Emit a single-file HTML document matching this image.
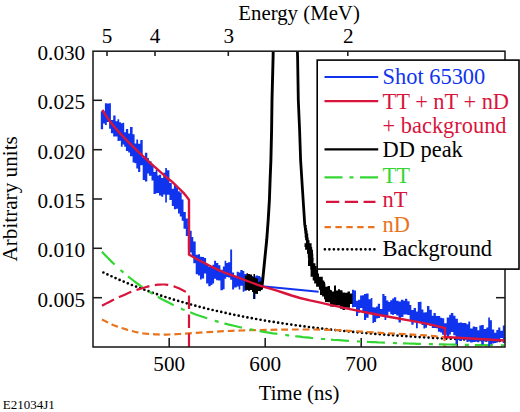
<!DOCTYPE html>
<html><head><meta charset="utf-8"><style>
html,body{margin:0;padding:0;background:#fff;}
svg{display:block;}
text{font-family:"Liberation Serif",serif;}
</style></head><body>
<svg width="520" height="412" viewBox="0 0 520 412">
<defs><clipPath id="pa"><rect x="93" y="51.2" width="412" height="295.8"/></clipPath></defs>
<rect width="520" height="412" fill="#fff"/>
<g stroke="#1c1c1c" stroke-width="1.55" fill="none"><line x1="93" y1="100.3" x2="102" y2="100.3"/><line x1="505" y1="100.3" x2="496" y2="100.3"/><line x1="93" y1="149.7" x2="102" y2="149.7"/><line x1="505" y1="149.7" x2="496" y2="149.7"/><line x1="93" y1="199.0" x2="102" y2="199.0"/><line x1="505" y1="199.0" x2="496" y2="199.0"/><line x1="93" y1="248.3" x2="102" y2="248.3"/><line x1="505" y1="248.3" x2="496" y2="248.3"/><line x1="93" y1="297.7" x2="102" y2="297.7"/><line x1="505" y1="297.7" x2="496" y2="297.7"/><line x1="169.2" y1="347" x2="169.2" y2="338"/><line x1="265.2" y1="347" x2="265.2" y2="338"/><line x1="361.2" y1="347" x2="361.2" y2="338"/><line x1="457.2" y1="347" x2="457.2" y2="338"/><line x1="107.0" y1="51" x2="107.0" y2="56"/><line x1="155.0" y1="51" x2="155.0" y2="56"/><line x1="228.3" y1="51" x2="228.3" y2="56"/><line x1="347.8" y1="51" x2="347.8" y2="56"/></g>
<g clip-path="url(#pa)" fill="none" stroke-linejoin="miter">
<polyline points="103.4,272.5 105.4,273.4 107.4,274.4 109.4,275.3 111.4,276.2 113.4,277.1 115.4,278.0 117.4,278.9 119.4,279.8 121.4,280.6 123.4,281.5 125.4,282.3 127.4,283.1 129.4,284.0 131.4,284.8 133.4,285.6 135.4,286.3 137.4,287.1 139.4,287.9 141.4,288.6 143.4,289.4 145.4,290.1 147.4,290.8 149.4,291.5 151.4,292.3 153.4,293.0 155.4,293.6 157.4,294.3 159.4,295.0 161.4,295.7 163.4,296.3 165.4,297.0 167.4,297.6 169.4,298.2 171.4,298.8 173.4,299.5 175.4,300.1 177.4,300.7 179.4,301.3 181.4,301.8 183.4,302.4 185.4,303.0 187.4,303.5 189.4,304.1 191.4,304.6 193.4,305.2 195.4,305.7 197.4,306.2 199.4,306.8 201.4,307.3 203.4,307.8 205.4,308.3 207.4,308.8 209.4,309.3 211.4,309.7 213.4,310.2 215.4,310.7 217.4,311.1 219.4,311.6 221.4,312.0 223.4,312.5 225.4,312.9 227.4,313.4 229.4,313.8 231.4,314.2 233.4,314.6 235.4,315.0 237.4,315.4 239.4,315.8 241.4,316.2 243.4,316.6 245.4,317.0 247.4,317.4 249.4,317.8 251.4,318.1 253.4,318.5 255.4,318.9 257.4,319.2 259.4,319.6 261.4,319.9 263.4,320.3 265.4,320.6 267.4,320.9 269.4,321.3 271.4,321.6 273.4,321.9 275.4,322.2 277.4,322.5 279.4,322.9 281.4,323.2 283.4,323.5 285.4,323.8 287.4,324.1 289.4,324.3 291.4,324.6 293.4,324.9 295.4,325.2 297.4,325.5 299.4,325.7 301.4,326.0 303.4,326.3 305.4,326.5 307.4,326.8 309.4,327.1 311.4,327.3 313.4,327.6 315.4,327.8 317.4,328.0 319.4,328.3 321.4,328.5 323.4,328.8 325.4,329.0 327.4,329.2 329.4,329.4 331.4,329.7 333.4,329.9 335.4,330.1 337.4,330.3 339.4,330.5 341.4,330.7 343.4,330.9 345.4,331.1 347.4,331.3 349.4,331.5 351.4,331.7 353.4,331.9 355.4,332.1 357.4,332.3 359.4,332.5 361.4,332.7 363.4,332.8 365.4,333.0 367.4,333.2 369.4,333.4 371.4,333.5 373.4,333.7 375.4,333.9 377.4,334.0 379.4,334.2 381.4,334.4 383.4,334.5 385.4,334.7 387.4,334.8 389.4,335.0 391.4,335.1 393.4,335.3 395.4,335.4 397.4,335.6 399.4,335.7 401.4,335.8 403.4,336.0 405.4,336.1 407.4,336.3 409.4,336.4 411.4,336.5 413.4,336.7 415.4,336.8 417.4,336.9 419.4,337.0 421.4,337.2 423.4,337.3 425.4,337.4 427.4,337.5 429.4,337.6 431.4,337.8 433.4,337.9 435.4,338.0 437.4,338.1 439.4,338.2 441.4,338.3 443.4,338.4 445.4,338.5 447.4,338.6 449.4,338.7 451.4,338.8 453.4,338.9 455.4,339.0 457.4,339.1 459.4,339.2 461.4,339.3 463.4,339.4 465.4,339.5 467.4,339.6 469.4,339.7 471.4,339.8 473.4,339.9 475.4,340.0 477.4,340.1 479.4,340.1 481.4,340.2 483.4,340.3 485.4,340.4 487.4,340.5 489.4,340.5 491.4,340.6 493.4,340.7 495.4,340.8 497.4,340.9 499.4,340.9 501.4,341.0 503.4,341.1 505.4,341.2" stroke="#000" stroke-width="2.7" stroke-dasharray="0 4.45" stroke-linecap="round"/>
<polyline points="102.0,319.5 103.8,320.4 106.4,321.8 109.3,323.2 112.0,324.5 114.4,325.5 116.8,326.4 119.2,327.2 121.7,328.0 124.2,328.8 126.8,329.6 129.4,330.3 132.0,331.0 134.7,331.7 137.4,332.3 140.2,332.8 143.0,333.3 146.0,333.7 149.0,333.9 152.0,334.1 155.0,334.3 157.8,334.4 160.4,334.6 163.1,334.6 166.0,334.6 169.1,334.5 172.4,334.4 176.0,334.2 180.0,334.0 184.3,333.7 188.9,333.4 194.0,333.0 200.0,332.6 207.0,332.2 214.9,331.7 223.3,331.2 232.0,330.8 241.3,330.5 251.1,330.2 260.9,330.0 270.0,329.8 278.1,329.7 285.5,329.6 292.7,329.5 300.0,329.5 307.6,329.5 315.3,329.5 322.9,329.6 330.0,329.8 336.6,330.1 342.8,330.4 348.9,330.8 355.0,331.2 361.1,331.6 367.2,332.0 373.4,332.4 380.0,332.8 387.4,333.2 395.3,333.6 403.1,334.0 410.0,334.4 415.8,334.8 421.0,335.1 425.6,335.4 430.0,335.8 434.4,336.2 438.5,336.6 442.0,337.0 444.5,337.3 444.5,347.5 506.0,347.5" stroke="#e8741e" stroke-width="2.2" stroke-dasharray="6.8 3.9"/>
<polyline points="102.0,251.7 105.0,254.9 108.0,258.1 111.0,261.1 114.0,264.0 117.0,266.8 120.0,269.6 123.0,272.2 126.0,274.7 129.0,277.2 132.0,279.5 135.0,281.8 138.0,284.0 141.0,286.2 144.0,288.2 147.0,290.2 150.0,292.1 153.0,294.0 156.0,295.8 159.0,297.5 162.0,299.2 165.0,300.8 168.0,302.3 171.0,303.8 174.0,305.3 177.0,306.7 180.0,308.0 183.0,309.4 186.0,310.6 189.0,311.8 192.0,313.0 195.0,314.2 198.0,315.3 201.0,316.3 204.0,317.3 207.0,318.3 210.0,319.3 213.0,320.2 216.0,321.1 219.0,322.0 222.0,322.8 225.0,323.6 228.0,324.4 231.0,325.1 234.0,325.8 237.0,326.5 240.0,327.2 243.0,327.9 246.0,328.5 249.0,329.1 252.0,329.7 255.0,330.3 258.0,330.8 261.0,331.3 264.0,331.8 267.0,332.3 270.0,332.8 273.0,333.3 276.0,333.7 279.0,334.1 282.0,334.5 285.0,334.9 288.0,335.3 291.0,335.7 294.0,336.1 297.0,336.4 300.0,336.7 303.0,337.1 306.0,337.4 309.0,337.7 312.0,338.0 315.0,338.3 318.0,338.5 321.0,338.8 324.0,339.0 327.0,339.3 330.0,339.5 333.0,339.8 336.0,340.0 339.0,340.2 342.0,340.4 345.0,340.6 348.0,340.8 351.0,341.0 354.0,341.2 357.0,341.3 360.0,341.5 363.0,341.7 366.0,341.8 369.0,342.0 372.0,342.1 375.0,342.2 378.0,342.4 381.0,342.5 384.0,342.6 387.0,342.8 390.0,342.9 393.0,343.0 396.0,343.1 399.0,343.2 402.0,343.3 405.0,343.4 408.0,343.5 411.0,343.6 414.0,343.7 417.0,343.8 420.0,343.9 423.0,343.9 426.0,344.0 429.0,344.1 432.0,344.2 435.0,344.2 438.0,344.3 441.0,344.4 444.0,344.4 447.0,344.5 450.0,344.5 453.0,344.6 456.0,344.7 459.0,344.7 462.0,344.8 465.0,344.8 468.0,344.9 471.0,344.9 474.0,345.0 477.0,345.0 480.0,345.0 483.0,345.1 486.0,345.1 489.0,345.2 492.0,345.2 495.0,345.2 498.0,345.3 501.0,345.3 504.0,345.3" stroke="#34d634" stroke-width="2.2" stroke-dasharray="18 8 4 6"/>
<polyline points="102.0,305.8 103.8,304.8 106.4,303.4 109.3,301.9 112.0,300.5 114.4,299.3 116.8,298.2 119.2,297.1 121.7,296.0 124.2,294.9 126.8,293.7 129.4,292.6 132.0,291.5 134.7,290.5 137.6,289.6 140.4,288.8 143.0,288.0 145.4,287.3 147.7,286.6 149.9,286.0 152.0,285.5 154.1,285.1 156.2,284.9 158.2,284.7 160.0,284.6 161.6,284.5 163.1,284.5 164.5,284.5 166.0,284.6 167.5,284.8 169.1,285.1 170.7,285.4 172.3,285.9 174.0,286.4 175.6,287.0 177.4,287.7 179.4,288.6 181.8,289.8 184.6,291.2 187.2,292.6 189.0,293.5 189.0,347.0" stroke="#d8143c" stroke-width="2.2" stroke-dasharray="13.5 5.5"/>
<polygon points="100.8,111.3 103.1,111.3 103.1,111.6 104.9,111.6 104.9,103.2 106.8,103.2 106.8,103.6 109.1,103.6 109.1,103.3 110.9,103.3 110.9,120.1 113.2,120.1 113.2,115.6 115.6,115.6 115.6,121.2 117.5,121.2 117.5,119.3 119.2,119.3 119.2,122.3 120.9,122.3 120.9,123.3 122.6,123.3 122.6,122.7 124.2,122.7 124.2,132.2 125.9,132.2 125.9,129.0 128.2,129.0 128.2,133.5 130.0,133.5 130.0,127.0 132.6,127.0 132.6,134.3 134.6,134.3 134.6,143.5 136.3,143.5 136.3,139.5 138.1,139.5 138.1,143.8 140.3,143.8 140.3,140.0 142.7,140.0 142.7,157.7 144.9,157.7 144.9,152.7 147.3,152.7 147.3,158.0 148.9,158.0 148.9,161.3 151.5,161.3 151.5,164.4 153.5,164.4 153.5,172.1 155.7,172.1 155.7,169.7 157.4,169.7 157.4,175.6 159.0,175.6 159.0,174.7 161.2,174.7 161.2,178.0 163.2,178.0 163.2,172.7 165.2,172.7 165.2,168.0 166.9,168.0 166.9,170.3 169.4,170.3 169.4,183.0 171.8,183.0 171.8,188.8 173.9,188.8 173.9,184.0 176.2,184.0 176.2,187.6 178.0,187.6 178.0,191.3 179.8,191.3 179.8,192.6 181.7,192.6 181.7,199.5 183.5,199.5 183.5,212.0 185.8,212.0 185.8,218.6 187.9,218.6 187.9,226.2 190.0,226.2 190.0,230.7 191.7,230.7 191.7,237.0 193.3,237.0 193.3,241.4 195.7,241.4 195.7,254.7 198.0,254.7 198.0,254.3 200.0,254.3 200.0,256.7 201.7,256.7 201.7,257.0 204.1,257.0 204.1,258.0 206.1,258.0 206.1,263.8 208.3,263.8 208.3,266.8 210.7,266.8 210.7,266.2 212.4,266.2 212.4,264.7 214.1,264.7 214.1,260.8 216.1,260.8 216.1,263.0 218.3,263.0 218.3,265.2 220.4,265.2 220.4,269.7 222.9,269.7 222.9,266.4 224.6,266.4 224.6,260.8 226.2,260.8 226.2,262.9 227.9,262.9 227.9,262.3 230.2,262.3 230.2,249.5 232.1,249.5 232.1,272.4 234.1,272.4 234.1,276.9 236.7,276.9 236.7,271.7 238.7,271.7 238.7,272.5 240.3,272.5 240.3,270.1 242.7,270.1 242.7,271.1 244.3,271.1 244.3,274.0 246.8,274.0 246.8,276.5 249.3,276.5 249.3,278.0 251.3,278.0 251.3,276.0 253.0,276.0 253.0,276.7 255.5,276.7 255.5,275.5 258.0,275.5 258.0,276.0 260.2,276.0 260.2,277.3 261.8,277.3 261.8,289.1 260.2,289.1 260.2,288.0 258.0,288.0 258.0,289.7 255.5,289.7 255.5,299.0 253.0,299.0 253.0,289.3 251.3,289.3 251.3,288.7 249.3,288.7 249.3,289.3 246.8,289.3 246.8,290.7 244.3,290.7 244.3,291.7 242.7,291.7 242.7,285.7 240.3,285.7 240.3,289.5 238.7,289.5 238.7,286.6 236.7,286.6 236.7,287.6 234.1,287.6 234.1,289.4 232.1,289.4 232.1,279.8 230.2,279.8 230.2,277.5 227.9,277.5 227.9,277.0 226.2,277.0 226.2,278.8 224.6,278.8 224.6,289.2 222.9,289.2 222.9,290.2 220.4,290.2 220.4,280.5 218.3,280.5 218.3,280.2 216.1,280.2 216.1,278.8 214.1,278.8 214.1,283.5 212.4,283.5 212.4,285.1 210.7,285.1 210.7,286.2 208.3,286.2 208.3,283.5 206.1,283.5 206.1,273.4 204.1,273.4 204.1,278.5 201.7,278.5 201.7,279.4 200.0,279.4 200.0,275.4 198.0,275.4 198.0,274.3 195.7,274.3 195.7,263.3 193.3,263.3 193.3,256.2 191.7,256.2 191.7,252.4 190.0,252.4 190.0,249.1 187.9,249.1 187.9,235.9 185.8,235.9 185.8,228.7 183.5,228.7 183.5,220.7 181.7,220.7 181.7,216.5 179.8,216.5 179.8,213.4 178.0,213.4 178.0,208.8 176.2,208.8 176.2,209.3 173.9,209.3 173.9,205.9 171.8,205.9 171.8,200.0 169.4,200.0 169.4,194.8 166.9,194.8 166.9,202.5 165.2,202.5 165.2,194.5 163.2,194.5 163.2,196.7 161.2,196.7 161.2,195.5 159.0,195.5 159.0,192.9 157.4,192.9 157.4,193.3 155.7,193.3 155.7,194.0 153.5,194.0 153.5,180.4 151.5,180.4 151.5,175.7 148.9,175.7 148.9,173.6 147.3,173.6 147.3,181.4 144.9,181.4 144.9,179.9 142.7,179.9 142.7,165.2 140.3,165.2 140.3,172.1 138.1,172.1 138.1,168.5 136.3,168.5 136.3,163.2 134.6,163.2 134.6,162.5 132.6,162.5 132.6,156.3 130.0,156.3 130.0,152.6 128.2,152.6 128.2,151.0 125.9,151.0 125.9,146.7 124.2,146.7 124.2,144.6 122.6,144.6 122.6,146.7 120.9,146.7 120.9,140.8 119.2,140.8 119.2,141.1 117.5,141.1 117.5,136.4 115.6,136.4 115.6,136.5 113.2,136.5 113.2,133.3 110.9,133.3 110.9,128.8 109.1,128.8 109.1,122.1 106.8,122.1 106.8,124.9 104.9,124.9 104.9,123.6 103.1,123.6 103.1,129.3 100.8,129.3" fill="#1034ee"/>
<polygon points="352.0,289.7 353.9,289.7 353.9,290.6 356.0,290.6 356.0,300.8 358.1,300.8 358.1,299.7 360.1,299.7 360.1,295.6 362.3,295.6 362.3,295.3 364.0,295.3 364.0,294.0 366.1,294.0 366.1,293.4 368.6,293.4 368.6,299.3 370.8,299.3 370.8,298.1 372.4,298.1 372.4,307.2 374.0,307.2 374.0,307.4 376.1,307.4 376.1,306.6 377.8,306.6 377.8,303.8 380.0,303.8 380.0,309.1 382.3,309.1 382.3,294.0 384.5,294.0 384.5,296.1 386.3,296.1 386.3,300.6 388.4,300.6 388.4,302.1 390.2,302.1 390.2,300.2 392.2,300.2 392.2,298.6 393.9,298.6 393.9,297.3 396.2,297.3 396.2,300.7 398.5,300.7 398.5,301.5 400.9,301.5 400.9,299.7 403.4,299.7 403.4,300.7 405.0,300.7 405.0,298.8 407.3,298.8 407.3,301.3 409.6,301.3 409.6,305.1 411.3,305.1 411.3,310.1 413.6,310.1 413.6,308.0 416.0,308.0 416.0,311.5 417.8,311.5 417.8,302.0 419.6,302.0 419.6,301.7 421.5,301.7 421.5,309.6 423.4,309.6 423.4,312.6 425.1,312.6 425.1,312.2 427.0,312.2 427.0,306.0 429.4,306.0 429.4,309.7 431.8,309.7 431.8,315.7 433.5,315.7 433.5,313.1 435.8,313.1 435.8,316.0 437.9,316.0 437.9,316.1 440.2,316.1 440.2,317.8 442.1,317.8 442.1,318.3 444.2,318.3 444.2,323.3 446.7,323.3 446.7,317.6 449.2,317.6 449.2,314.8 450.9,314.8 450.9,312.9 453.3,312.9 453.3,315.7 455.5,315.7 455.5,318.8 457.9,318.8 457.9,322.8 459.7,322.8 459.7,322.5 462.0,322.5 462.0,322.9 463.9,322.9 463.9,323.1 466.4,323.1 466.4,324.3 468.3,324.3 468.3,321.5 470.2,321.5 470.2,328.4 472.7,328.4 472.7,326.5 475.1,326.5 475.1,326.9 477.4,326.9 477.4,330.3 479.3,330.3 479.3,325.4 481.3,325.4 481.3,325.1 483.8,325.1 483.8,328.9 486.3,328.9 486.3,327.5 488.2,327.5 488.2,317.6 489.9,317.6 489.9,320.2 491.9,320.2 491.9,329.6 494.2,329.6 494.2,332.7 496.3,332.7 496.3,330.0 498.2,330.0 498.2,327.6 500.3,327.6 500.3,330.8 502.8,330.8 502.8,325.5 504.4,325.5 504.4,325.2 506.0,325.2 506.0,340.9 504.4,340.9 504.4,342.9 502.8,342.9 502.8,337.9 500.3,337.9 500.3,341.5 498.2,341.5 498.2,342.5 496.3,342.5 496.3,342.9 494.2,342.9 494.2,343.4 491.9,343.4 491.9,344.2 489.9,344.2 489.9,346.7 488.2,346.7 488.2,341.2 486.3,341.2 486.3,341.6 483.8,341.6 483.8,344.5 481.3,344.5 481.3,341.2 479.3,341.2 479.3,342.3 477.4,342.3 477.4,341.7 475.1,341.7 475.1,341.9 472.7,341.9 472.7,342.6 470.2,342.6 470.2,341.5 468.3,341.5 468.3,342.0 466.4,342.0 466.4,339.7 463.9,339.7 463.9,339.5 462.0,339.5 462.0,341.1 459.7,341.1 459.7,340.1 457.9,340.1 457.9,344.3 455.5,344.3 455.5,335.2 453.3,335.2 453.3,331.9 450.9,331.9 450.9,334.5 449.2,334.5 449.2,336.8 446.7,336.8 446.7,334.7 444.2,334.7 444.2,334.7 442.1,334.7 442.1,332.6 440.2,332.6 440.2,331.7 437.9,331.7 437.9,328.3 435.8,328.3 435.8,328.0 433.5,328.0 433.5,327.9 431.8,327.9 431.8,325.7 429.4,325.7 429.4,323.0 427.0,323.0 427.0,327.7 425.1,327.7 425.1,328.5 423.4,328.5 423.4,324.9 421.5,324.9 421.5,322.8 419.6,322.8 419.6,323.1 417.8,323.1 417.8,328.3 416.0,328.3 416.0,322.3 413.6,322.3 413.6,324.7 411.3,324.7 411.3,320.6 409.6,320.6 409.6,315.0 407.3,315.0 407.3,314.5 405.0,314.5 405.0,314.6 403.4,314.6 403.4,316.9 400.9,316.9 400.9,322.4 398.5,322.4 398.5,315.4 396.2,315.4 396.2,313.9 393.9,313.9 393.9,315.0 392.2,315.0 392.2,314.2 390.2,314.2 390.2,311.8 388.4,311.8 388.4,315.7 386.3,315.7 386.3,320.1 384.5,320.1 384.5,316.5 382.3,316.5 382.3,315.4 380.0,315.4 380.0,317.9 377.8,317.9 377.8,318.5 376.1,318.5 376.1,321.9 374.0,321.9 374.0,323.1 372.4,323.1 372.4,313.5 370.8,313.5 370.8,314.1 368.6,314.1 368.6,317.7 366.1,317.7 366.1,319.9 364.0,319.9 364.0,312.7 362.3,312.7 362.3,308.1 360.1,308.1 360.1,312.7 358.1,312.7 358.1,316.0 356.0,316.0 356.0,306.9 353.9,306.9 353.9,307.2 352.0,307.2" fill="#1034ee"/>
<polyline points="262.0,286.3 318.6,291.8" stroke="#1034ee" stroke-width="2"/>
<polygon points="245.0,275.8 246.5,275.8 246.5,273.3 248.0,273.3 248.0,274.0 250.0,274.0 250.0,274.4 252.0,274.4 252.0,276.7 253.5,276.7 253.5,274.0 255.0,274.0 255.0,278.0 256.5,278.0 256.5,278.5 258.0,278.5 258.0,282.2 259.5,282.2 259.5,281.3 261.0,281.3 261.0,282.0 262.5,282.0 262.5,290.0 261.0,290.0 261.0,291.3 259.5,291.3 259.5,290.9 258.0,290.9 258.0,294.0 256.5,294.0 256.5,293.7 255.0,293.7 255.0,298.7 253.5,298.7 253.5,292.0 252.0,292.0 252.0,290.0 250.0,290.0 250.0,290.7 248.0,290.7 248.0,290.0 246.5,290.0 246.5,289.9 245.0,289.9" fill="#000"/>
<polygon points="320.0,281.5 322.5,281.5 322.5,281.9 325.0,281.9 325.0,287.2 327.5,287.2 327.5,286.0 330.0,286.0 330.0,290.3 332.0,290.3 332.0,291.5 334.0,291.5 334.0,285.4 336.0,285.4 336.0,290.4 338.0,290.4 338.0,289.2 340.0,289.2 340.0,290.3 342.5,290.3 342.5,292.6 345.0,292.6 345.0,292.8 347.5,292.8 347.5,291.4 350.0,291.4 350.0,293.6 352.5,293.6 352.5,304.0 350.0,304.0 350.0,307.8 347.5,307.8 347.5,307.8 345.0,307.8 345.0,310.0 342.5,310.0 342.5,308.7 340.0,308.7 340.0,305.6 338.0,305.6 338.0,305.4 336.0,305.4 336.0,306.0 334.0,306.0 334.0,306.7 332.0,306.7 332.0,306.6 330.0,306.6 330.0,302.3 327.5,302.3 327.5,302.0 325.0,302.0 325.0,295.5 322.5,295.5 322.5,295.0 320.0,295.0" fill="#000"/>
<polygon points="303.7,225.0 303.7,227.9 304.0,227.9 304.0,230.6 304.3,230.6 304.3,233.6 304.7,233.6 304.7,237.5 305.1,237.5 305.1,240.3 305.9,240.3 305.9,243.2 304.5,243.2 304.5,246.9 305.1,246.9 305.1,249.8 307.0,249.8 307.0,253.8 307.8,253.8 307.8,257.7 308.1,257.7 308.1,260.4 308.0,260.4 308.0,263.3 308.0,263.3 308.0,265.9 310.2,265.9 310.2,269.5 310.6,269.5 310.6,273.4 310.6,273.4 310.6,276.8 312.7,276.8 312.7,280.4 314.2,280.4 314.2,283.6 316.1,283.6 316.1,286.8 318.9,286.8 318.9,289.7 320.9,289.7 320.9,292.5 322.1,292.5 322.1,296.4 324.0,296.4 324.0,299.2 324.9,299.2 324.9,300.0 334.9,300.0 334.9,299.2 334.7,299.2 334.7,296.4 333.9,296.4 333.9,292.5 331.0,292.5 331.0,289.7 328.6,289.7 328.6,286.8 325.4,286.8 325.4,283.6 324.3,283.6 324.3,280.4 322.8,280.4 322.8,276.8 319.0,276.8 319.0,273.4 318.1,273.4 318.1,269.5 316.7,269.5 316.7,265.9 315.4,265.9 315.4,263.3 313.5,263.3 313.5,260.4 313.6,260.4 313.6,257.7 313.3,257.7 313.3,253.8 313.0,253.8 313.0,249.8 312.2,249.8 312.2,246.9 311.6,246.9 311.6,243.2 309.5,243.2 309.5,240.3 308.7,240.3 308.7,237.5 308.2,237.5 308.2,233.6 307.6,233.6 307.6,230.6 307.1,230.6 307.1,227.9 306.7,227.9 306.7,225.0" fill="#000"/>
<polyline points="261.5,289.0 262.5,282.0 264.7,260.0 266.7,240.0 268.2,220.0 269.4,200.0 270.1,180.0 270.9,160.0 271.6,130.0 272.0,100.0 273.1,57.0 273.4,40.0" stroke="#000" stroke-width="2.9"/>
<polyline points="297.3,40.0 297.4,51.0 297.6,57.0 298.3,100.0 299.6,130.0 300.6,160.0 302.5,190.0 303.8,210.0 304.8,225.5" stroke="#000" stroke-width="2.8"/>
<polyline points="102.4,109.8 104.0,112.4 106.2,116.0 108.5,119.4 110.5,122.1 112.5,124.6 114.5,127.0 116.4,129.3 118.4,131.4 120.4,133.6 122.5,135.9 124.7,138.2 127.0,140.6 129.5,143.2 132.2,145.9 135.0,148.6 137.7,151.2 140.5,153.8 143.5,156.6 146.8,159.6 150.2,162.8 153.5,165.8 156.4,168.4 159.2,170.9 162.0,173.3 164.9,175.8 167.9,178.3 170.5,180.5 172.5,182.2 174.1,183.7 176.0,185.5 178.6,188.0 181.5,190.8 184.0,193.4 186.1,195.9 187.8,198.2 189.0,199.8 189.0,254.5 191.5,256.0 195.3,258.2 200.0,260.8 205.8,263.8 212.5,267.2 219.2,270.4 225.6,273.0 232.1,275.4 238.5,277.7 244.9,280.1 251.3,282.5 257.7,284.8 264.0,286.8 270.2,288.6 276.9,290.6 284.1,293.0 291.6,295.5 300.0,298.0 309.9,300.4 320.5,302.7 330.0,304.8 337.4,306.4 343.7,307.8 350.0,309.1 356.3,310.4 362.6,311.7 370.0,313.2 379.4,315.0 390.0,317.0 400.0,318.8 408.9,320.4 417.2,321.9 425.0,323.4 432.8,325.1 440.0,326.8 445.0,328.0 445.0,337.0 505.0,340.5" stroke="#d8143c" stroke-width="2.4"/>
</g>
<g stroke="#1c1c1c" stroke-width="1.55" fill="none">
<rect x="93" y="51.2" width="412" height="295.8"/>
</g>
<g font-size="21.2px" fill="#000">
<text x="85.2" y="60.0" text-anchor="end">0.030</text><text x="85.2" y="109.3" text-anchor="end">0.025</text><text x="85.2" y="158.7" text-anchor="end">0.020</text><text x="85.2" y="208.0" text-anchor="end">0.015</text><text x="85.2" y="257.3" text-anchor="end">0.010</text><text x="85.2" y="306.7" text-anchor="end">0.005</text>
<text x="169.2" y="370.8" text-anchor="middle">500</text><text x="265.2" y="370.8" text-anchor="middle">600</text><text x="361.2" y="370.8" text-anchor="middle">700</text><text x="457.2" y="370.8" text-anchor="middle">800</text>
<text x="107.0" y="43" text-anchor="middle">5</text><text x="155.0" y="43" text-anchor="middle">4</text><text x="228.8" y="43" text-anchor="middle">3</text><text x="348.4" y="43" text-anchor="middle">2</text>
<text x="299.1" y="400.3" text-anchor="middle" font-size="20.8px">Time (ns)</text>
<text x="299.1" y="19.6" text-anchor="middle" font-size="20.8px">Energy (MeV)</text>
<text transform="translate(17.2,198.9) rotate(-90)" text-anchor="middle" font-size="21.2px">Arbitrary units</text>
</g>
<g font-size="22.4px">
<rect x="317.2" y="60.1" width="201.8" height="209" fill="#fff" stroke="#000" stroke-width="1.6"/><line x1="324.5" y1="77.0" x2="378.2" y2="77.0" stroke="#1034ee" stroke-width="2.2" stroke-linecap="butt"/><line x1="324.5" y1="101.2" x2="378.2" y2="101.2" stroke="#d8143c" stroke-width="2.2" stroke-linecap="butt"/><line x1="324.5" y1="149.3" x2="378.2" y2="149.3" stroke="#000" stroke-width="2.2" stroke-linecap="butt"/><line x1="324.5" y1="177.3" x2="378.2" y2="177.3" stroke="#34d634" stroke-width="2.2" stroke-linecap="butt" stroke-dasharray="18 7 4 6.5"/><line x1="326" y1="201.8" x2="375.5" y2="201.8" stroke="#d8143c" stroke-width="2.2" stroke-linecap="butt" stroke-dasharray="13.3 5.5"/><line x1="324.5" y1="227.1" x2="375.2" y2="227.1" stroke="#e8741e" stroke-width="2.2" stroke-linecap="butt" stroke-dasharray="6.4 4.5"/><line x1="324.9" y1="249.3" x2="375" y2="249.3" stroke="#000" stroke-width="2.7" stroke-linecap="round" stroke-dasharray="0 4.5"/><text x="382.6" y="83.8" fill="#1034ee">Shot 65300</text><text x="382.6" y="108.6" fill="#d8143c">TT + nT + nD</text><text x="382.6" y="133.1" fill="#d8143c">+ background</text><text x="382.6" y="157.4" fill="#000">DD peak</text><text x="382.6" y="182.5" fill="#34d634">TT</text><text x="382.6" y="207.2" fill="#d8143c">nT</text><text x="382.6" y="231.6" fill="#e8741e">nD</text><text x="382.6" y="255.6" fill="#000">Background</text>
</g>
<text x="2.7" y="409.2" font-size="13px" fill="#000">E21034J1</text>
</svg>
</body></html>
